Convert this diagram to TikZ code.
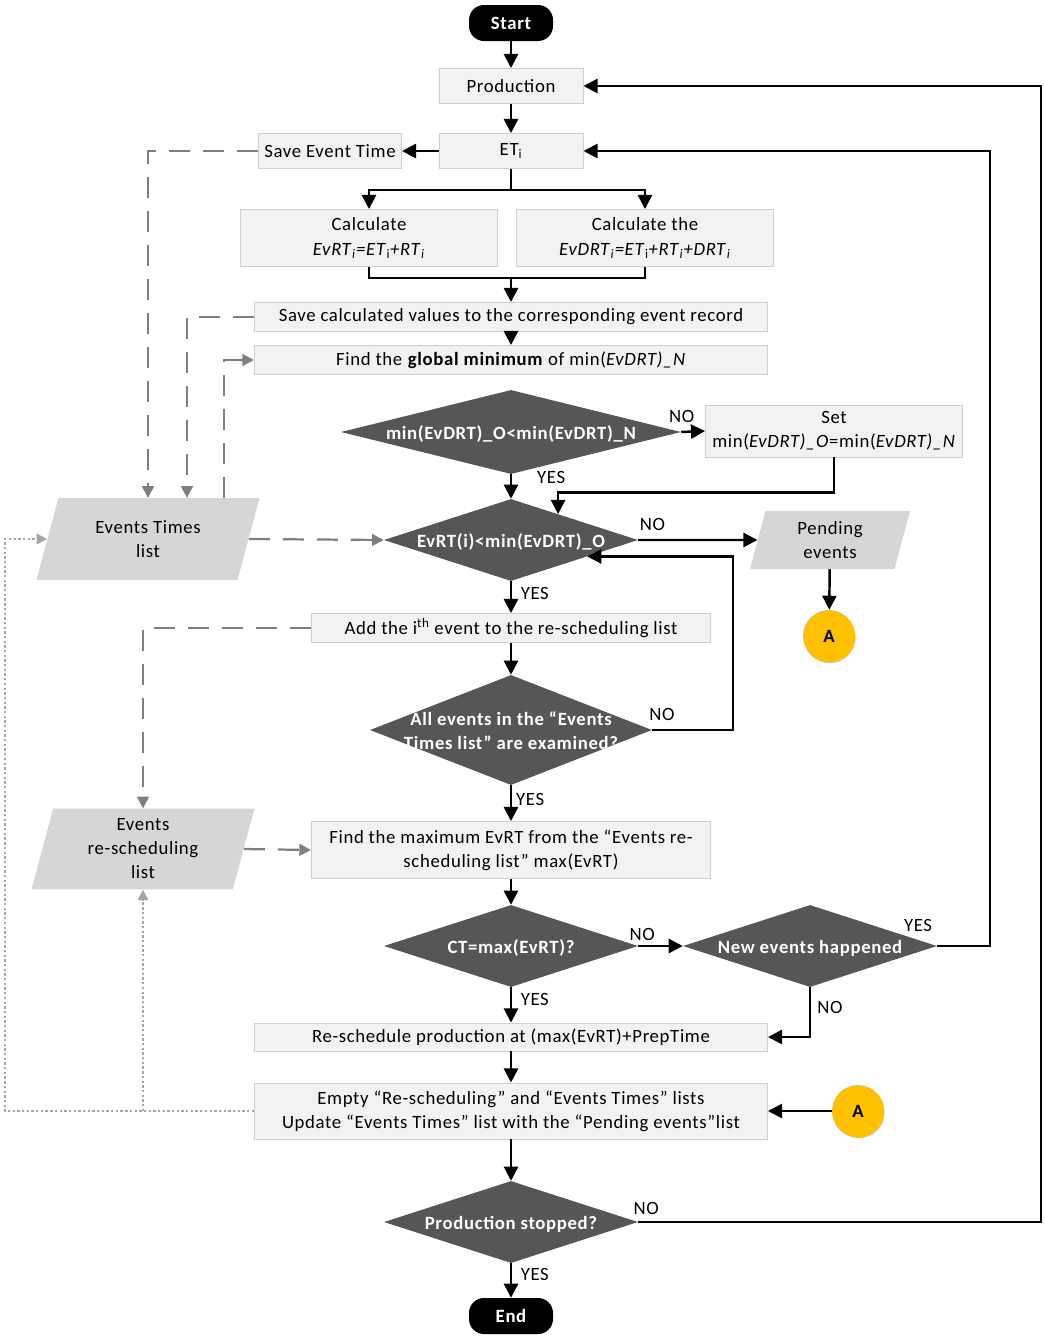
\documentclass[tikz,border=0pt]{standalone}
\usepackage{fontspec}
\setmainfont{Carlito}[LetterSpace=3.5]
\usetikzlibrary{shapes.geometric,arrows.meta,shadows,calc}

\definecolor{boxfill}{HTML}{F2F2F2}
\definecolor{boxline}{HTML}{CFCFCF}
\definecolor{decfill}{HTML}{565656}
\definecolor{datafill}{HTML}{D6D6D6}
\definecolor{linkgray}{HTML}{7F7F7F}
\definecolor{dotgray}{HTML}{A6A6A6}
\definecolor{connfill}{HTML}{FFC000}

\newcommand{\pxl}{0.03cm}
\newcommand{\basefont}{\fontsize{16}{20.5}\selectfont}
% text of a decision, kept out of the size of the diamond
\newcommand{\dtext}[1]{\raisebox{-0.42em}{\makebox[0pt]{\begin{tabular}{@{}c@{}}#1\end{tabular}}}}

\tikzstyle{proc} = [rectangle, draw=boxline, line width=0.8pt, fill=boxfill, inner sep=1pt, align=center]
\tikzstyle{decide} = [diamond, fill=decfill, text=white, font=\basefont\bfseries, inner sep=0pt, text height=0pt, text depth=0pt]
\tikzstyle{term} = [rectangle, rounded corners=0.45cm, fill=black, text=white, font=\basefont\bfseries, minimum width=84*\pxl, minimum height=36*\pxl]
\tikzstyle{store} = [trapezium, trapezium left angle=75, trapezium right angle=105, trapezium stretches body, fill=datafill, inner xsep=0pt, align=center]
\tikzstyle{conn} = [circle, fill=connfill, font=\basefont\bfseries, minimum size=52*\pxl, inner sep=0pt, drop shadow={shadow xshift=0.6pt, shadow yshift=-1pt, fill=blue!40!gray, opacity=0.35}]
\tikzstyle{flow} = [-{Triangle[length=12pt,width=12pt]}, line width=2.1pt]
\tikzstyle{dlink} = [-{Triangle[length=10pt,width=10pt]}, draw=linkgray, line width=1.9pt, dash pattern=on 18pt off 11pt]
\tikzstyle{dotlink} = [-{Triangle[length=9pt,width=9pt]}, draw=dotgray, line width=1.5pt, dash pattern=on 2pt off 2pt]

\begin{document}
\begin{tikzpicture}[x=0.03cm, y=-0.03cm, font=\basefont]
\useasboundingbox (0,0) rectangle (1045,1339);

% main column
\node[term] (start) at (511,23) {Start};
\node[proc, minimum width=144*\pxl, minimum height=35*\pxl] (prod) at (511,86) {Production};
\node[proc, minimum width=144*\pxl, minimum height=35*\pxl] (et) at (511,151) {ET\textsubscript{i}};
\node[proc, minimum width=143*\pxl, minimum height=35*\pxl] (save) at (330,151) {Save Event Time};
\node[proc, minimum width=257*\pxl, minimum height=57*\pxl] (calc1) at (369,238)
  {Calculate\\ \textit{EvRT}\textsubscript{\textit{i}}\textit{=ET}\textsubscript{i}\textit{+RT}\textsubscript{\textit{i}}};
\node[proc, minimum width=257*\pxl, minimum height=57*\pxl] (calc2) at (645,238)
  {Calculate the\\ \textit{EvDRT}\textsubscript{\textit{i}}\textit{=ET}\textsubscript{i}\textit{+RT}\textsubscript{\textit{i}}\textit{+DRT}\textsubscript{\textit{i}}};
\node[proc, minimum width=513*\pxl, minimum height=29*\pxl] (savecalc) at (511,317)
  {Save calculated values to the corresponding event record};
\node[proc, minimum width=513*\pxl, minimum height=29*\pxl] (findmin) at (511,360)
  {Find the \textbf{global minimum} of min(\textit{EvDRT)\_N}};
\node[decide, minimum width=340*\pxl, minimum height=84*\pxl] (dec1) at (511,432) {\dtext{min(EvDRT)\_O<min(EvDRT)\_N}};
\node[proc, minimum width=257*\pxl, minimum height=52*\pxl] (setmin) at (834,431)
  {Set\\ min(\textit{EvDRT)\_O}=min(\textit{EvDRT)\_N}};
\node[decide, minimum width=254*\pxl, minimum height=82*\pxl] (dec2) at (511,540) {\dtext{EvRT(i)<min(EvDRT)\_O}};
\node[store, inner ysep=0.31cm, minimum width=160*\pxl, minimum height=58*\pxl] (pend) at (830,540) {Pending\\ events};
\node[conn] (conA1) at (829,636) {A};
\node[proc, minimum width=399*\pxl, minimum height=29*\pxl] (add) at (511,628)
  {Add the i\textsuperscript{th} event to the re-scheduling list};
\node[decide, minimum width=282*\pxl, minimum height=110*\pxl] (dec3) at (511,730)
  {\dtext{All events in the “Events\\ Times list” are examined?}};
\node[proc, minimum width=399*\pxl, minimum height=57*\pxl] (findmax) at (511,850)
  {Find the maximum EvRT from the “Events re-\\ scheduling list” max(EvRT)};
\node[decide, minimum width=254*\pxl, minimum height=82*\pxl] (dec4) at (511,946) {\dtext{CT=max(EvRT)?}};
\node[decide, minimum width=254*\pxl, minimum height=82*\pxl] (newev) at (810,946) {\dtext{New events happened}};
\node[proc, minimum width=513*\pxl, minimum height=28*\pxl] (resch) at (511,1037)
  {Re-schedule production at (max(EvRT)+PrepTime};
\node[proc, minimum width=513*\pxl, minimum height=56*\pxl] (empty) at (511,1111)
  {Empty “Re-scheduling” and “Events Times” lists\\ Update “Events Times” list with the “Pending events”list};
\node[conn] (conA2) at (858,1111) {A};
\node[decide, minimum width=254*\pxl, minimum height=82*\pxl] (dec6) at (511,1222) {\dtext{Production stopped?}};
\node[term] (end) at (511,1316) {End};

% lists on the left
\node[store, inner ysep=0.67cm, minimum width=223*\pxl, minimum height=80*\pxl] (etl) at (148,539) {Events Times\\ list};
\node[store, inner ysep=0.31cm, minimum width=223*\pxl, minimum height=80*\pxl] (rsl) at (143,849) {Events\\ re-scheduling\\ list};

\coordinate (split) at (511,190);
\coordinate (join) at (511,278);

% control flow
\draw[flow] (start) -- (prod);
\draw[flow] (prod) -- (et);
\draw[flow] (et) -- (save);
\draw[line width=2.1pt] (et.south) -- (split);
\draw[flow] (split) -| (calc1.north);
\draw[flow] (split) -| (calc2.north);
\draw[line width=2.1pt] (calc1.south) |- (join) -| (calc2.south);
\draw[flow] (join) -- (savecalc);
\draw[flow] (savecalc) -- (findmin);
\draw[flow] (dec1.east) -- node[above, pos=0.02, yshift=4pt]{NO} (setmin.west);
\draw[flow] (dec1.south) -- node[right, pos=0.15, xshift=18pt]{YES} (dec2.north);
\draw[flow] (setmin.south) -- ++(0,35) -| ($(dec2.north)!0.37!(dec2.east)$);
\draw[flow] (dec2.east) -- node[above, pos=0.12, yshift=4pt]{NO} (pend);
\draw[flow] (pend) -- (conA1);
\draw[flow] (dec2.south) -- node[right, pos=0.4, xshift=4pt]{YES} (add.north);
\draw[flow] (add) -- (dec3.north);
\draw[flow] (dec3.east) -- node[above, pos=0.12, yshift=4pt]{NO} ++(81,0) |- ($(dec2.south)!0.6!(dec2.east)$);
\draw[flow] (dec3.south) -- node[right, pos=0.4]{YES} (findmax.north);
\draw[flow] (findmax) -- (dec4.north);
\draw[flow] (dec4.east) -- node[above, pos=0.09]{NO} (newev.west);
\draw[flow] (newev.east) -- node[above left, pos=0, yshift=8pt]{YES} ++(53,0) |- (et.east);
\draw[flow] (newev.south) |- node[right, pos=0.2, xshift=2pt]{NO} (resch.east);
\draw[flow] (dec4.south) -- node[right, pos=0.36, xshift=4pt]{YES} (resch.north);
\draw[flow] (resch) -- (empty);
\draw[flow] (conA2) -- (empty.east);
\draw[flow] (empty) -- (dec6.north);
\draw[flow] (dec6.east) -- node[above, pos=0.02, yshift=2pt]{NO} ++(403,0) |- (prod.east);
\draw[flow] (dec6.south) -- node[right, pos=0.33, xshift=4pt]{YES} (end);

% data links
\draw[dlink] (save.west) -| (etl.north);
\draw[dlink] (savecalc.west) -| ($(etl.north)+(39,0)$);
\draw[dlink] ($(etl.north)+(76,0)$) |- (findmin.west);
\draw[dlink] (etl.east) -- (dec2.west);
\draw[dlink] (add.west) -| (rsl.north);
\draw[dlink] (rsl.east) -- (findmax.west);
\draw[dotlink] (empty.west) -- ++(-249,0) |- (etl.west);
\draw[dotlink] (rsl.south |- empty.west) -- (rsl.south);
\end{tikzpicture}
\end{document}
